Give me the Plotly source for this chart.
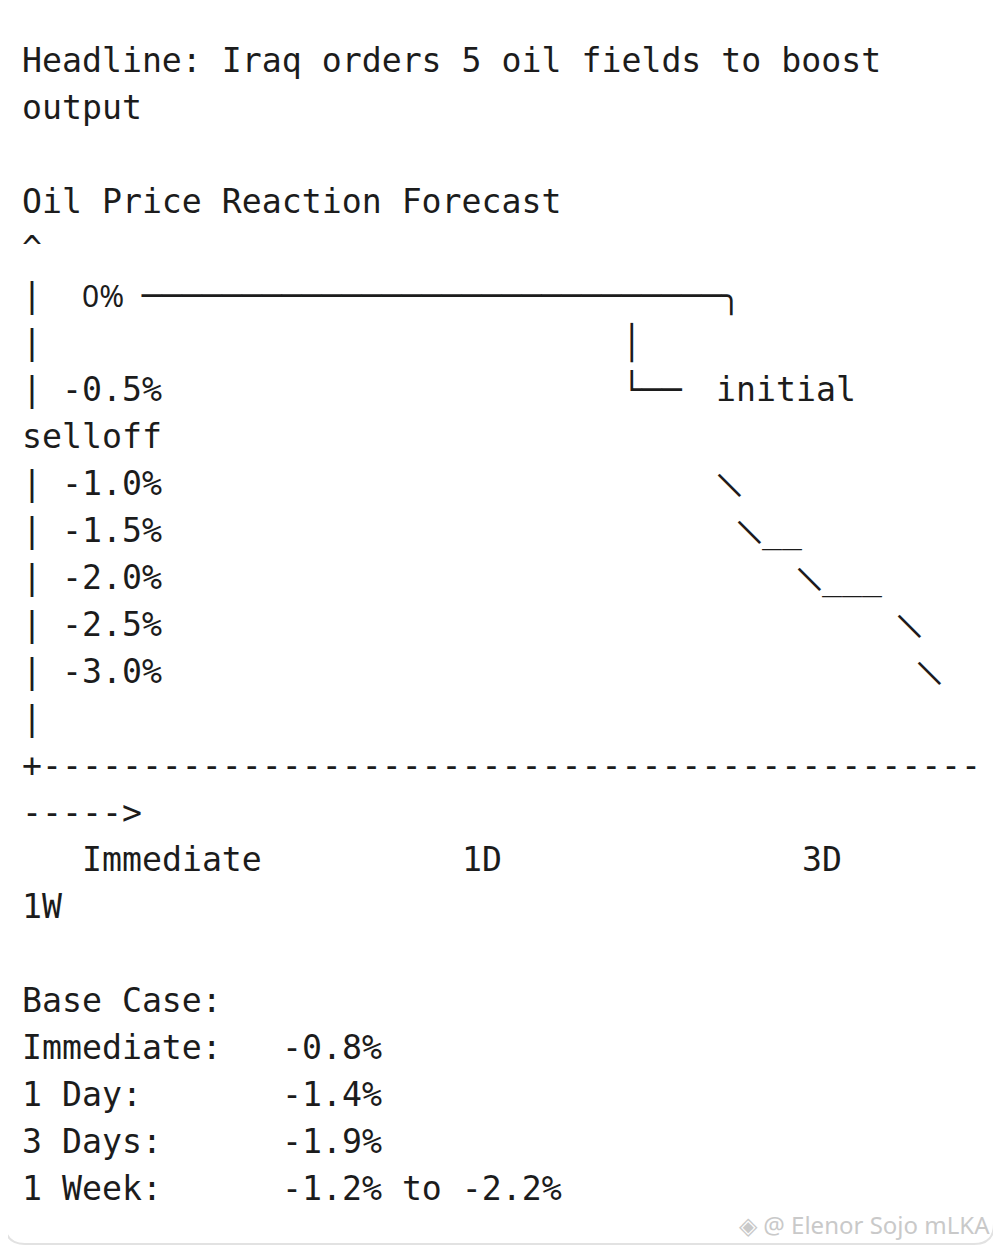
"""
Oil price reaction forecast, drawn as the monospace text chart it was posted as.
"""

import plotly.graph_objects as go


# --------------------------------------------------
# Data
# --------------------------------------------------

headline_lines = ["Headline: Iraq orders 5 oil fields to boost", "output"]
chart_title = "Oil Price Reaction Forecast"

y_labels = ["0%", "-0.5%", "-1.0%", "-1.5%", "-2.0%", "-2.5%", "-3.0%"]
y_note = "selloff"

x_labels = ["Immediate", "1D", "3D", "1W"]

curve_note = "initial"

base_case_title = "Base Case:"
base_case_labels = ["Immediate:", "1 Day:", "3 Days:", "1 Week:"]
base_case_values = ["-0.8%", "-1.4%", "-1.9%", "-1.2% to -2.2%"]

watermark = "◈ @ Elenor Sojo mLKA"


# --------------------------------------------------
# Text grid
# --------------------------------------------------

W, H = 1001, 1250
PAGE_PAD = 8       # browser body margin, so data units == screen px
LEFT = 22          # px of column 0
CHAR_W = 20        # px per character cell
TOP = 64           # px of row 0
LINE_H = 47        # px per text row

MONO = "DejaVu Sans Mono"
FONT_SIZE = 33.2
INK = "#1c1c1c"

segments = []      # (row, col, text)
slashes = []       # (row, col) of the falling diagonal strokes


def put(row, col, text):
    segments.append((row, col, text))


def px(col):
    return LEFT + CHAR_W * col


def py(row):
    return TOP + LINE_H * row


put(0, 0, headline_lines[0])
put(1, 0, headline_lines[1])
put(3, 0, chart_title)
put(4, 0, "^")

# y axis: labels on rows 5,7,9..13, plain bars elsewhere
label_rows = [5, 7, 9, 10, 11, 12, 13]
for r in range(5, 15):
    if r == 8:
        put(r, 0, y_note)
    else:
        put(r, 0, "|")
for r, lab in zip(label_rows[1:], y_labels[1:]):
    put(r, 2, lab)

# the forecast path
put(5, 6, "─" * 29 + "╮")
put(6, 30, "│")
put(7, 30, "└──")
put(7, 34.7, curve_note)
put(10, 37, "__")
put(11, 40, "___")
for r, c in [(9, 35), (10, 36), (11, 39), (12, 44), (13, 45)]:
    slashes.append((r, c))

# x axis
put(15, 0, "+" + "-" * 47)
put(16, 0, "----->")
for col, lab in zip([3, 22, 39], x_labels[:3]):
    put(17, col, lab)
put(18, 0, x_labels[3])

# base case table
put(20, 0, base_case_title)
for i, (lab, val) in enumerate(zip(base_case_labels, base_case_values)):
    put(21 + i, 0, lab)
    put(21 + i, 13, val)


# --------------------------------------------------
# Figure
# --------------------------------------------------

fig = go.Figure()

fig.add_trace(go.Scatter(
    x=[px(c) for r, c, t in segments],
    y=[py(r) for r, c, t in segments],
    text=[t for r, c, t in segments],
    mode="text",
    textposition="middle right",
    textfont=dict(family=MONO, size=FONT_SIZE, color=INK),
    hoverinfo="skip",
    showlegend=False,
))

# the top tick label sits in a proportional face in the original
fig.add_trace(go.Scatter(
    x=[px(3)],
    y=[py(label_rows[0])],
    text=[y_labels[0]],
    mode="text",
    textposition="middle right",
    textfont=dict(family="Noto Sans", size=30, color=INK),
    hoverinfo="skip",
    showlegend=False,
))

# diagonal strokes of the curve
for r, c in slashes:
    fig.add_annotation(
        x=px(c) + CHAR_W / 2, y=py(r) - 5,
        xref="x", yref="y",
        text="—",
        textangle=45,
        showarrow=False,
        xanchor="center", yanchor="middle",
        font=dict(family="Noto Sans", size=33, color=INK),
    )

# card border
fig.add_shape(
    type="path",
    path="M 5,-20 L 5,1224 Q 5,1244 25,1244 L 974,1244 Q 994,1244 994,1224 L 994,-20",
    line=dict(color="#e2e2e2", width=2),
    xref="x", yref="y",
)

fig.add_annotation(
    x=992, y=1224, xref="x", yref="y",
    text=watermark,
    showarrow=False,
    xanchor="right", yanchor="middle",
    font=dict(family="Noto Sans", size=24, color="#c9c9c9"),
)

fig.update_layout(
    width=W, height=H,
    margin=dict(l=0, r=0, t=0, b=0),
    paper_bgcolor="white",
    plot_bgcolor="white",
    xaxis=dict(range=[PAGE_PAD, W + PAGE_PAD], visible=False, fixedrange=True),
    yaxis=dict(range=[H + PAGE_PAD, PAGE_PAD], visible=False, fixedrange=True),
)

fig.write_html("out.html")
